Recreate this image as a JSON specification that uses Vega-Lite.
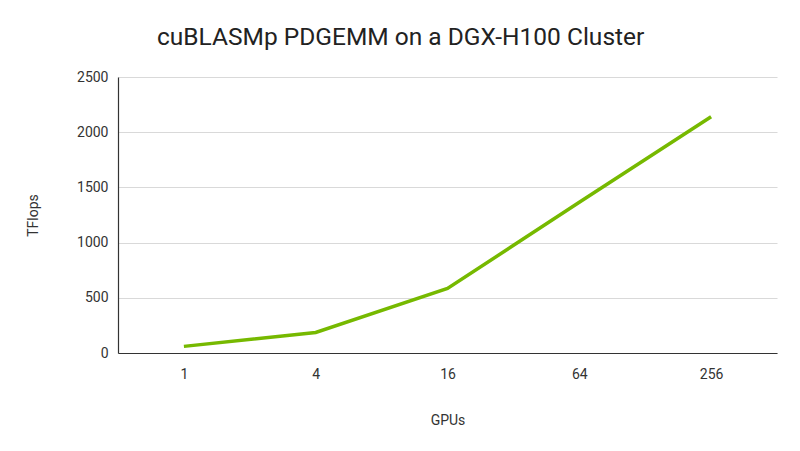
{
  "$schema": "https://vega.github.io/schema/vega-lite/v6.json",
  "width": 659,
  "height": 276,
  "autosize": "none",
  "padding": {"left": 118, "top": 77, "right": 23, "bottom": 98},
  "background": "white",
  "title": {
    "text": "cuBLASMp PDGEMM on a DGX-H100 Cluster",
    "font": "Roboto",
    "fontSize": 24.5,
    "fontWeight": "normal",
    "color": "#222222",
    "anchor": "start",
    "dx": 131,
    "offset": 20
  },
  "data": {
    "values": [
      {"GPUs": "1", "TFlops": 60},
      {"GPUs": "4", "TFlops": 186},
      {"GPUs": "16", "TFlops": 584},
      {"GPUs": "64", "TFlops": 1365},
      {"GPUs": "256", "TFlops": 2140}
    ]
  },
  "mark": {"type": "line", "color": "#76b900", "strokeWidth": 3.5},
  "encoding": {
    "x": {
      "field": "GPUs",
      "type": "ordinal",
      "sort": null,
      "scale": {"type": "point", "padding": 0.5},
      "axis": {
        "title": "GPUs",
        "labelAngle": 0,
        "labelFont": "Roboto",
        "labelFontSize": 14,
        "labelColor": "#333333",
        "labelPadding": 14,
        "titleFont": "Roboto",
        "titleFontSize": 14,
        "titleFontWeight": "normal",
        "titleColor": "#333333",
        "titlePadding": 32,
        "ticks": false,
        "domainColor": "#333333",
        "domainWidth": 1.2,
        "grid": false
      }
    },
    "y": {
      "field": "TFlops",
      "type": "quantitative",
      "scale": {"domain": [0, 2500]},
      "axis": {
        "title": "TFlops",
        "format": "d",
        "values": [0, 500, 1000, 1500, 2000, 2500],
        "labelFont": "Roboto",
        "labelFontSize": 14,
        "labelColor": "#333333",
        "labelPadding": 10,
        "titleFont": "Roboto",
        "titleFontSize": 14,
        "titleFontWeight": "normal",
        "titleColor": "#333333",
        "titleX": -78,
        "ticks": false,
        "domainColor": "#333333",
        "domainWidth": 1.2,
        "gridColor": "#d9d9d9",
        "gridWidth": 1.2
      }
    }
  },
  "config": {"view": {"stroke": null}}
}
